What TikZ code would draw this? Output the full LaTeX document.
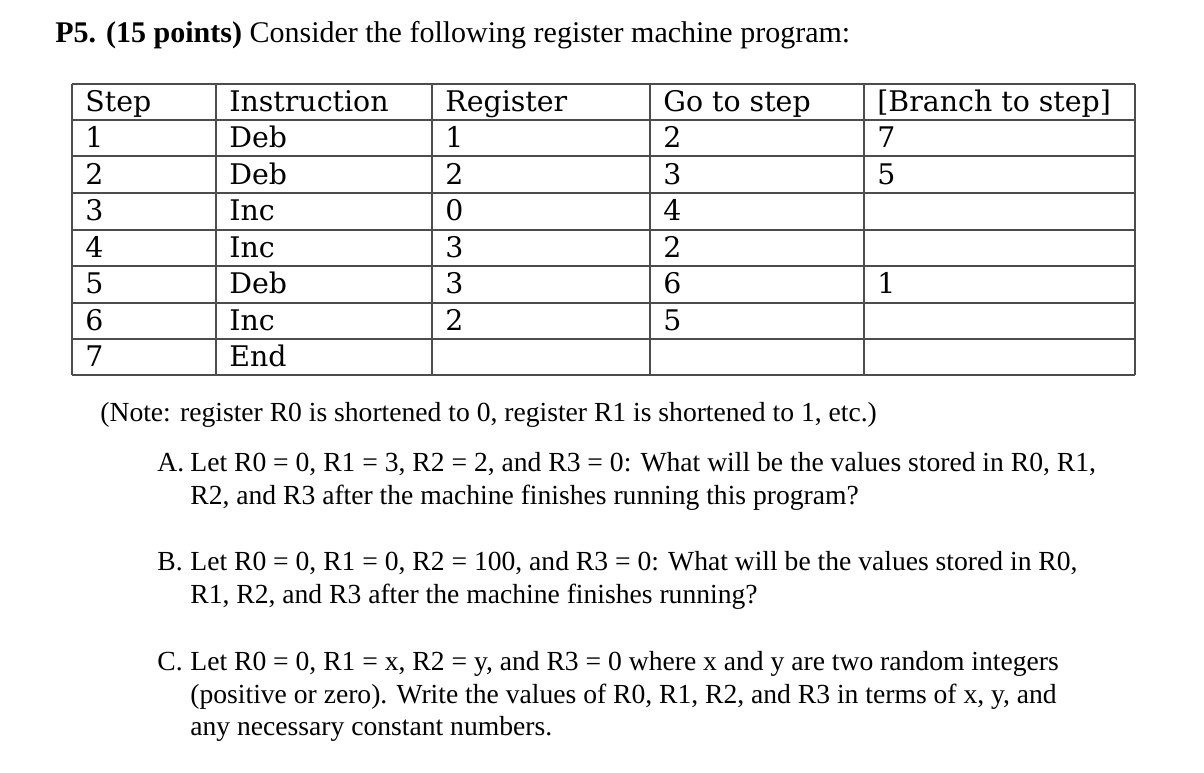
\documentclass[tikz,border=0pt]{standalone}
\usepackage{fontspec}
\setmainfont{Liberation Serif}
\newfontfamily\tabfont{DejaVu Serif}
\begin{document}
\begin{tikzpicture}[x=0.5pt,y=-0.5pt,
 txt/.style={anchor=base west,inner sep=0,font=\fontsize{13.8}{16}\selectfont},
 cell/.style={anchor=base west,inner sep=0,font=\tabfont\fontsize{14.2}{16}\selectfont},
 grid/.style={line width=0.9pt,black!70}]
\useasboundingbox (0,0) rectangle (1204,772);
\node[txt,font=\fontsize{15}{17}\selectfont] (title) at (55,42) {\textbf{P5. (15 points)} Consider the following register machine program:};
% table
\foreach \y in {84,120,156,193,230,266,303,339,375} \draw[grid] (72,\y) -- (1135,\y);
\foreach \x in {72,216,432,650,864,1135} \draw[grid] (\x,84) -- (\x,375);
\foreach \x/\t [count=\i] in {85/Step,229/Instruction,445/Register,663/Go to step,877/[Branch to step]}
  \node[cell] (h\i) at (\x,111) {\t};
\foreach \r/\a/\b/\c/\d/\e [count=\i] in {
 1/Deb/1/2/7, 2/Deb/2/3/5, 3/Inc/0/4/{}, 4/Inc/3/2/{}, 5/Deb/3/6/1, 6/Inc/2/5/{}, 7/End/{}/{}/{}}{
  \pgfmathsetmacro\yy{111+36.5*\i}
  \node[cell] (s\i) at (85,\yy) {\r};
  \node[cell] (n\i) at (229,\yy) {\a};
  \node[cell] (g\i) at (445,\yy) {\b};
  \node[cell] (t\i) at (663,\yy) {\c};
  \node[cell] (b\i) at (877,\yy) {\d};
}
\node[txt] (note) at (100,421) {(Note: register R0 is shortened to 0, register R1 is shortened to 1, etc.)};
\node[txt] (a1) at (157,471) {A.};
\node[txt] (a2) at (190,471) {Let R0 = 0, R1 = 3, R2 = 2, and R3 = 0: What will be the values stored in R0, R1,};
\node[txt] (a3) at (190,504) {R2, and R3 after the machine finishes running this program?};
\node[txt] (b1) at (157,570) {B.};
\node[txt] (b2) at (190,570) {Let R0 = 0, R1 = 0, R2 = 100, and R3 = 0: What will be the values stored in R0,};
\node[txt] (b3) at (190,603) {R1, R2, and R3 after the machine finishes running?};
\node[txt] (c1) at (157,670) {C.};
\node[txt] (c2) at (190,670) {Let R0 = 0, R1 = x, R2 = y, and R3 = 0 where x and y are two random integers};
\node[txt] (c3) at (190,703) {(positive or zero). Write the values of R0, R1, R2, and R3 in terms of x, y, and};
\node[txt] (c4) at (190,735) {any necessary constant numbers.};
\end{tikzpicture}
\end{document}
